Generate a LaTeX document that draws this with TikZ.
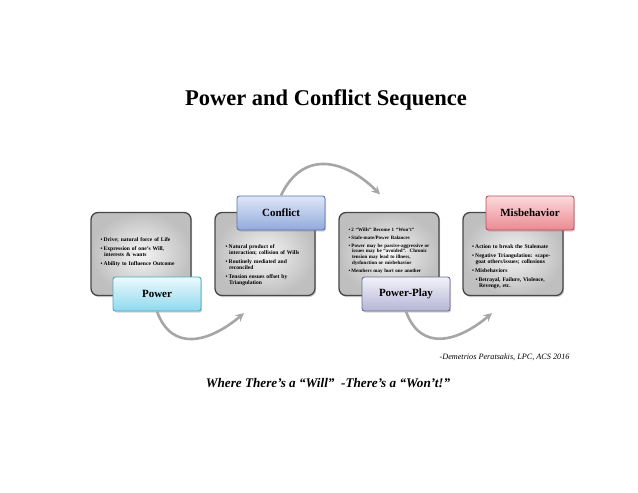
\documentclass[tikz,border=0pt]{standalone}
\usepackage{fontspec}
\setmainfont{Liberation Serif}
\usetikzlibrary{arrows, shadows}
\setlength{\parindent}{0pt}

\definecolor{stageborder}{HTML}{474747}
\definecolor{flowgray}{HTML}{A6A6A6}
\definecolor{powertop}{HTML}{ECFAFD}
\definecolor{powerbottom}{HTML}{8ED9EE}
\definecolor{powerborder}{HTML}{4FA6BE}
\definecolor{conflicttop}{HTML}{DEE7F8}
\definecolor{conflictbottom}{HTML}{92AADB}
\definecolor{conflictborder}{HTML}{5875AE}
\definecolor{playtop}{HTML}{F2F2FA}
\definecolor{playbottom}{HTML}{B5B5D6}
\definecolor{playborder}{HTML}{6B6B90}
\definecolor{misbtop}{HTML}{FCDADC}
\definecolor{misbbottom}{HTML}{EA8A92}
\definecolor{misbborder}{HTML}{BE4E5C}

\newcommand{\bul}{\par\hangindent=3.5pt\hangafter=1\textbullet\hspace{1.2pt}}
\newcommand{\subbul}{\par\leftskip=3.5pt\hangindent=3.5pt\hangafter=1\textbullet\hspace{1.2pt}}

\tikzstyle{stage} = [
    rectangle,
    rounded corners=7pt,
    minimum width=100pt,
    minimum height=83pt,
    draw=stageborder,
    line width=1.3pt,
    inner color=gray!8,
    outer color=gray!50,
    drop shadow={opacity=0.35, shadow xshift=1.2pt, shadow yshift=-1.6pt}
]
\tikzstyle{stagetitle} = [
    rectangle,
    rounded corners=2.5pt,
    minimum width=88pt,
    minimum height=34pt,
    line width=0.9pt,
    font=\fontsize{11}{13}\selectfont\bfseries,
    drop shadow={opacity=0.35, shadow xshift=1.2pt, shadow yshift=-1.6pt}
]
\tikzstyle{bullets} = [
    anchor=north west,
    inner sep=0pt,
    text width=92pt,
    align=left,
    font=\fontsize{5.6}{6.2}\selectfont\bfseries\setlength{\parskip}{2.5pt}
]
\tikzstyle{flow} = [line width=2.6pt, draw=flowgray, ->, >=stealth]

\begin{document}
\begin{tikzpicture}[x=1pt, y=1pt, node distance=124pt]

\useasboundingbox (0,0) rectangle (638,-493);

\node (title) [font=\fontsize{22.5}{26}\selectfont\bfseries] at (326,-100)
{Power and Conflict Sequence};

\node (stage1) [stage] at (141,-254) {};
\node (stage2) [stage, right of=stage1] {};
\node (stage3) [stage, right of=stage2] {};
\node (stage4) [stage, right of=stage3] {};

\node (text1) [bullets] at ([shift={(10,-21)}]stage1.north west)
{\bul Drive; natural force of Life
 \bul Expression of one’s Will,\newline interests \& wants
 \bul Ability to Influence Outcome\par};

\node (text2) [bullets] at ([shift={(11,-28)}]stage2.north west)
{\bul Natural product of\newline interaction; collision of Wills
 \bul Routinely mediated and\newline reconciled
 \bul Tension ensues offset by\newline Triangulation\par};

\node (text3) [bullets, font=\fontsize{5}{5.7}\selectfont\bfseries\setlength{\parskip}{2.3pt}]
at ([shift={(10,-11)}]stage3.north west)
{\bul 2 “Wills” Become 1 “Won’t”
 \bul Stale-mate/Power Balances
 \bul Power may be passive-aggressive or\newline issues may be “avoided”.\ \ Chronic\newline tension may lead to illness,\newline dysfunction or misbehavior
 \bul Members may hurt one another\par};

\node (text4) [bullets] at ([shift={(9.5,-28)}]stage4.north west)
{\bul Action to break the Stalemate
 \bul Negative Triangulation: scape-\newline goat others/issues; collusions
 \bul Misbehaviors
 \subbul Betrayal, Failure, Violence,\newline Revenge, etc.\par};

\node (power) [stagetitle, top color=powertop, bottom color=powerbottom, draw=powerborder]
at ([shift={(16,-40)}]stage1.center) {Power};
\node (conflict) [stagetitle, top color=conflicttop, bottom color=conflictbottom, draw=conflictborder]
at ([shift={(16,41)}]stage2.center) {Conflict};
\node (powerplay) [stagetitle, top color=playtop, bottom color=playbottom, draw=playborder]
at ([shift={(17,-40)}]stage3.center) {Power-Play};
\node (misbehavior) [stagetitle, top color=misbtop, bottom color=misbbottom, draw=misbborder]
at ([shift={(17,41)}]stage4.center) {Misbehavior};

\coordinate (end1) at ([shift={(-21,-17)}]stage2.south);
\coordinate (end2) at ([shift={(-9,17.5)}]stage3.north);
\coordinate (end3) at ([shift={(-21,-17)}]stage4.south);

\draw [flow] (power.south) to[out=-70, in=-140, looseness=1.3] (end1);
\draw [flow] (conflict.north) to[out=65, in=135, looseness=1.3] (end2);
\draw [flow] (powerplay.south) to[out=-70, in=-140, looseness=1.3] (end3);

\node (credit) [font=\fontsize{8.2}{10}\selectfont\itshape, anchor=east] at (573,-357)
{-Demetrios Peratsakis, LPC, ACS 2016};

\node (motto) [font=\fontsize{13.2}{16}\selectfont\bfseries\itshape] at (328,-383)
{Where There’s a “Will”\ \ -There’s a “Won’t!”};

\end{tikzpicture}
\end{document}
